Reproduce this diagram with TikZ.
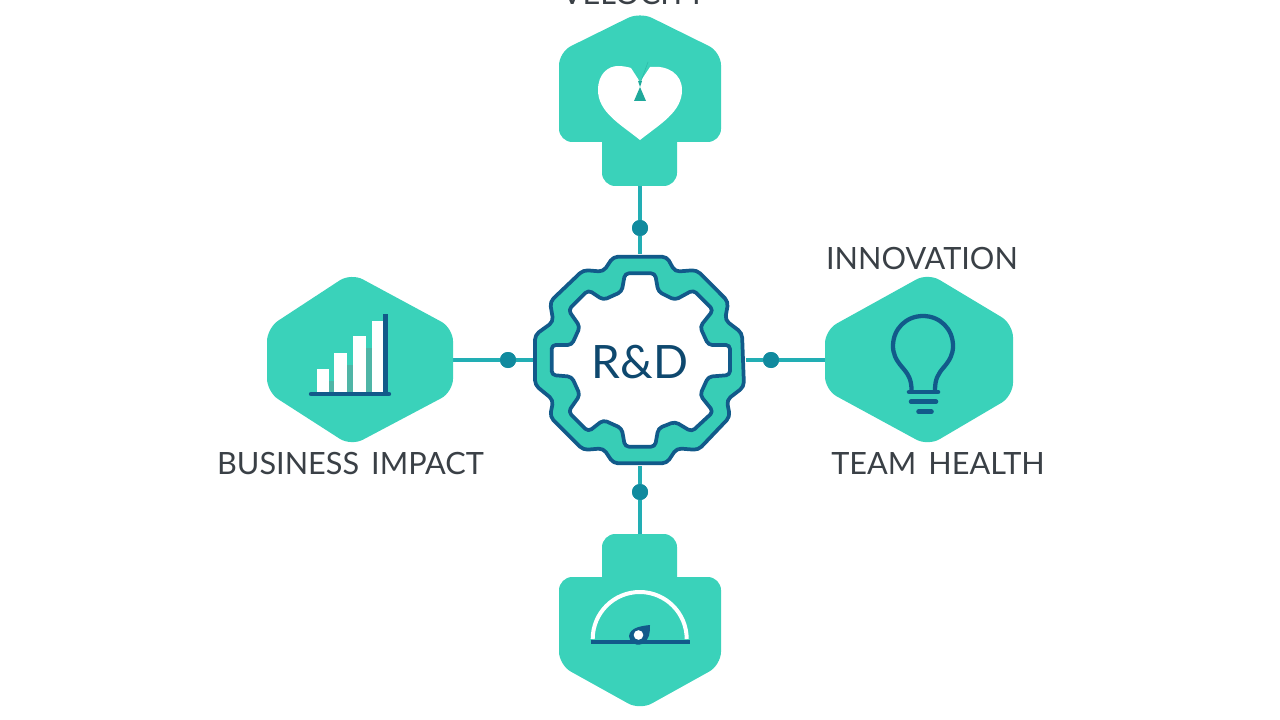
\documentclass[tikz,border=0pt]{standalone}
\usepackage{fontspec}
\setmainfont{Lato}
\definecolor{hexfill}{HTML}{3AD2BA}
\definecolor{gearfill}{HTML}{38CDB6}
\definecolor{navy}{HTML}{125A8A}
\definecolor{linkc}{HTML}{22AEB4}
\definecolor{dotc}{HTML}{118A9E}
\definecolor{labelc}{HTML}{3A4046}
\definecolor{barshadow}{HTML}{4FB5A6}
\definecolor{hourglass}{HTML}{1FA99B}
\tikzset{
  x=0.75pt,y=-0.75pt,
  anchorbox/.style={inner sep=0pt,outer sep=0pt,minimum width=#1*0.75pt},
  hexshape/.style={fill=hexfill,rounded corners=10pt},
  link/.style={draw=linkc,line width=2.8pt},
  dotnode/.style={circle,fill=dotc,inner sep=0pt,minimum size=12pt},
  lbl/.style={text=labelc,font=\fontsize{23}{23}\selectfont,inner sep=0pt,anchor=base},
}
\begin{document}
\begin{tikzpicture}
\useasboundingbox (0,0) rectangle (1280,720);
\clip (0,0) rectangle (1280,720);
% hit boxes for the connectors
\node[anchorbox=212,minimum height=159pt] (gear) at (640,360) {};
\node[anchorbox=162,minimum height=128.25pt] (vel) at (640,100.5) {};
\node[anchorbox=162,minimum height=129pt] (speed) at (640,620.5) {};
\node[anchorbox=186,minimum height=123pt] (biz) at (360,360) {};
\node[anchorbox=188,minimum height=123pt] (inn) at (919,360) {};
% dots
\node[dotnode] (dT) at (640,228) {};
\node[dotnode] (dB) at (640,492) {};
\node[dotnode] (dL) at (508,360) {};
\node[dotnode] (dR) at (771,360) {};
% connectors
\draw[link] (vel.south) -- (dT) -- (gear.north);
\draw[link] (speed.north) -- (dB) -- (gear.south);
\draw[link] (biz.east) -- (dL) -- (gear.west);
\draw[link] (inn.west) -- (dR) -- (gear.east);
\node[dotnode] at (dT) {};
\node[dotnode] at (dB) {};
\node[dotnode] at (dL) {};
\node[dotnode] at (dR) {};
% hexagons
\fill[hexshape] (351,273) -- (453,328) -- (453,392) -- (351,446) -- (267,392) -- (267,328) -- cycle;
\fill[hexshape] (928,273) -- (1013,324) -- (1013,396) -- (928,446) -- (825,390) -- (825,330) -- cycle;
% top house: body and neck overlap, so the two neck corners stay sharp
\fill[hexshape] (640,12) -- (721,52) -- (721,142) -- (559,142) -- (559,52) -- cycle;
\fill[hexshape] (602,120) rectangle (677,186);
\fill[hexshape] (559,577) -- (721,577) -- (721,665) -- (640,710) -- (559,665) -- cycle;
\fill[hexshape] (602,534) rectangle (677,600);
% gear
\def\gearouter{(613.3,256.7) -- (666.7,256.7) -- (675,271.7) -- (696.7,270) -- (728.3,301.7) -- (725,320) -- (742,333) -- (744,386.7) -- (726.7,400) -- (730,416.7) -- (698.3,450) -- (676.7,448.3) -- (666.7,463.3) -- (613.3,463.3) -- (603.3,448.3) -- (583.3,450) -- (550,416.7) -- (553.3,400) -- (535,385) -- (535,335) -- (553.3,321.7) -- (550,301.7) -- (583.3,270) -- (603.3,271.7) -- cycle}
\def\gearinner{(625,273.3) -- (655,273.3) -- (658.3,291.7) -- (675,300) -- (693.3,290) -- (713.3,310) -- (700,326.7) -- (708.3,345) -- (730,345) -- (730,375) -- (708.3,376.7) -- (700,395) -- (713.3,411.7) -- (691.7,431.7) -- (675,421.7) -- (658.3,428.3) -- (655,446.7) -- (625,446.7) -- (621.7,428.3) -- (603.3,420) -- (588.3,431.7) -- (568.3,411.7) -- (580,395) -- (571.7,376.7) -- (551.7,375) -- (551.7,345) -- (571.7,345) -- (580,326.7) -- (568.3,310) -- (588.3,290) -- (603.3,300) -- (621.7,291.7) -- cycle}
\fill[gearfill,rounded corners=3.5pt,even odd rule] \gearouter \gearinner;
\draw[navy,line width=2.8pt,rounded corners=3.5pt,line join=round] \gearouter;
\draw[navy,line width=2.8pt,rounded corners=3pt,line join=round] \gearinner;
\node[text=navy!80!black,font=\fontsize{34.5}{34.5}\selectfont,inner sep=0pt,anchor=base] (rd) at (640,378) {R\&D};
% heart + hourglass
\fill[white] (640,140) .. controls (620,124) and (598,112) .. (598,90) .. controls (598,74) and (608,66) .. (618,66) .. controls (623,66) and (628,67) .. (631,68) -- (640,82) -- (650,67) .. controls (668,65) and (682,74) .. (682,90) .. controls (682,112) and (660,124) .. (640,140) -- cycle;
\fill[hourglass] (634,101) -- (646,101) -- (640,87) -- cycle;
\fill[hourglass] (638,81) -- (642,81) -- (640,87) -- cycle;
\draw[hourglass!60!hexfill,line width=0.4pt] (641,81) -- (648,62);
% chart
\foreach \xa/\xb/\yt in {329/334.3/381,347.3/353.3/365,366/372.3/348}{\fill[barshadow] (\xa,\yt) rectangle (\xb,392);}
\foreach \xa/\xb/\yt in {316.7/329/369.3,334.3/347.3/352.7,353.3/366/336,372.3/382.7/320.7}{\fill[white] (\xa,\yt) rectangle (\xb,392);}
\fill[navy] (382.7,314) rectangle (388,392);
\draw[navy,line width=3.3pt,line cap=round] (311,394) -- (389,394);
% bulb
\draw[navy,line width=3.2pt,line cap=round,line join=round] (911.5,390) .. controls (911.5,379) and (908,374) .. (902,367) .. controls (896,360) and (893,354) .. (893,346) .. controls (893,329) and (906,316) .. (923,316) .. controls (940,316) and (953,329) .. (953,346) .. controls (953,354) and (950,360) .. (944,367) .. controls (938,374) and (935,379) .. (935,390);
\draw[navy,line width=3.4pt,line cap=round] (909,392) -- (938,392);
\draw[navy,line width=3.4pt,line cap=round] (911,401.7) -- (936,401.7);
\draw[navy,line width=3.4pt,line cap=round] (918.5,411.7) -- (931.5,411.7);
% gauge
\draw[white,line width=3pt] (592.7,639) arc[start angle=180,end angle=360,x radius=47,y radius=47];
\draw[navy,line width=3.2pt] (591,642) -- (690,642);
\fill[navy] (650,625) .. controls (650,632) and (650,640) .. (642,644) .. controls (634,647) and (629,640) .. (629,636) .. controls (630,628) and (640,626) .. (650,625) -- cycle;
\fill[white] (638.5,635) circle[radius=4.8];
% labels
\node[lbl] (t1) at (634,5) {VELOCITY};
\node[lbl] (t2) at (922,269) {INNOVATION};
\node[lbl] (t3) at (350.5,474) {BUSINESS\hspace{9pt}IMPACT};
\node[lbl] (t4) at (938,474) {TEAM\hspace{9pt}HEALTH};
\end{tikzpicture}
\end{document}
